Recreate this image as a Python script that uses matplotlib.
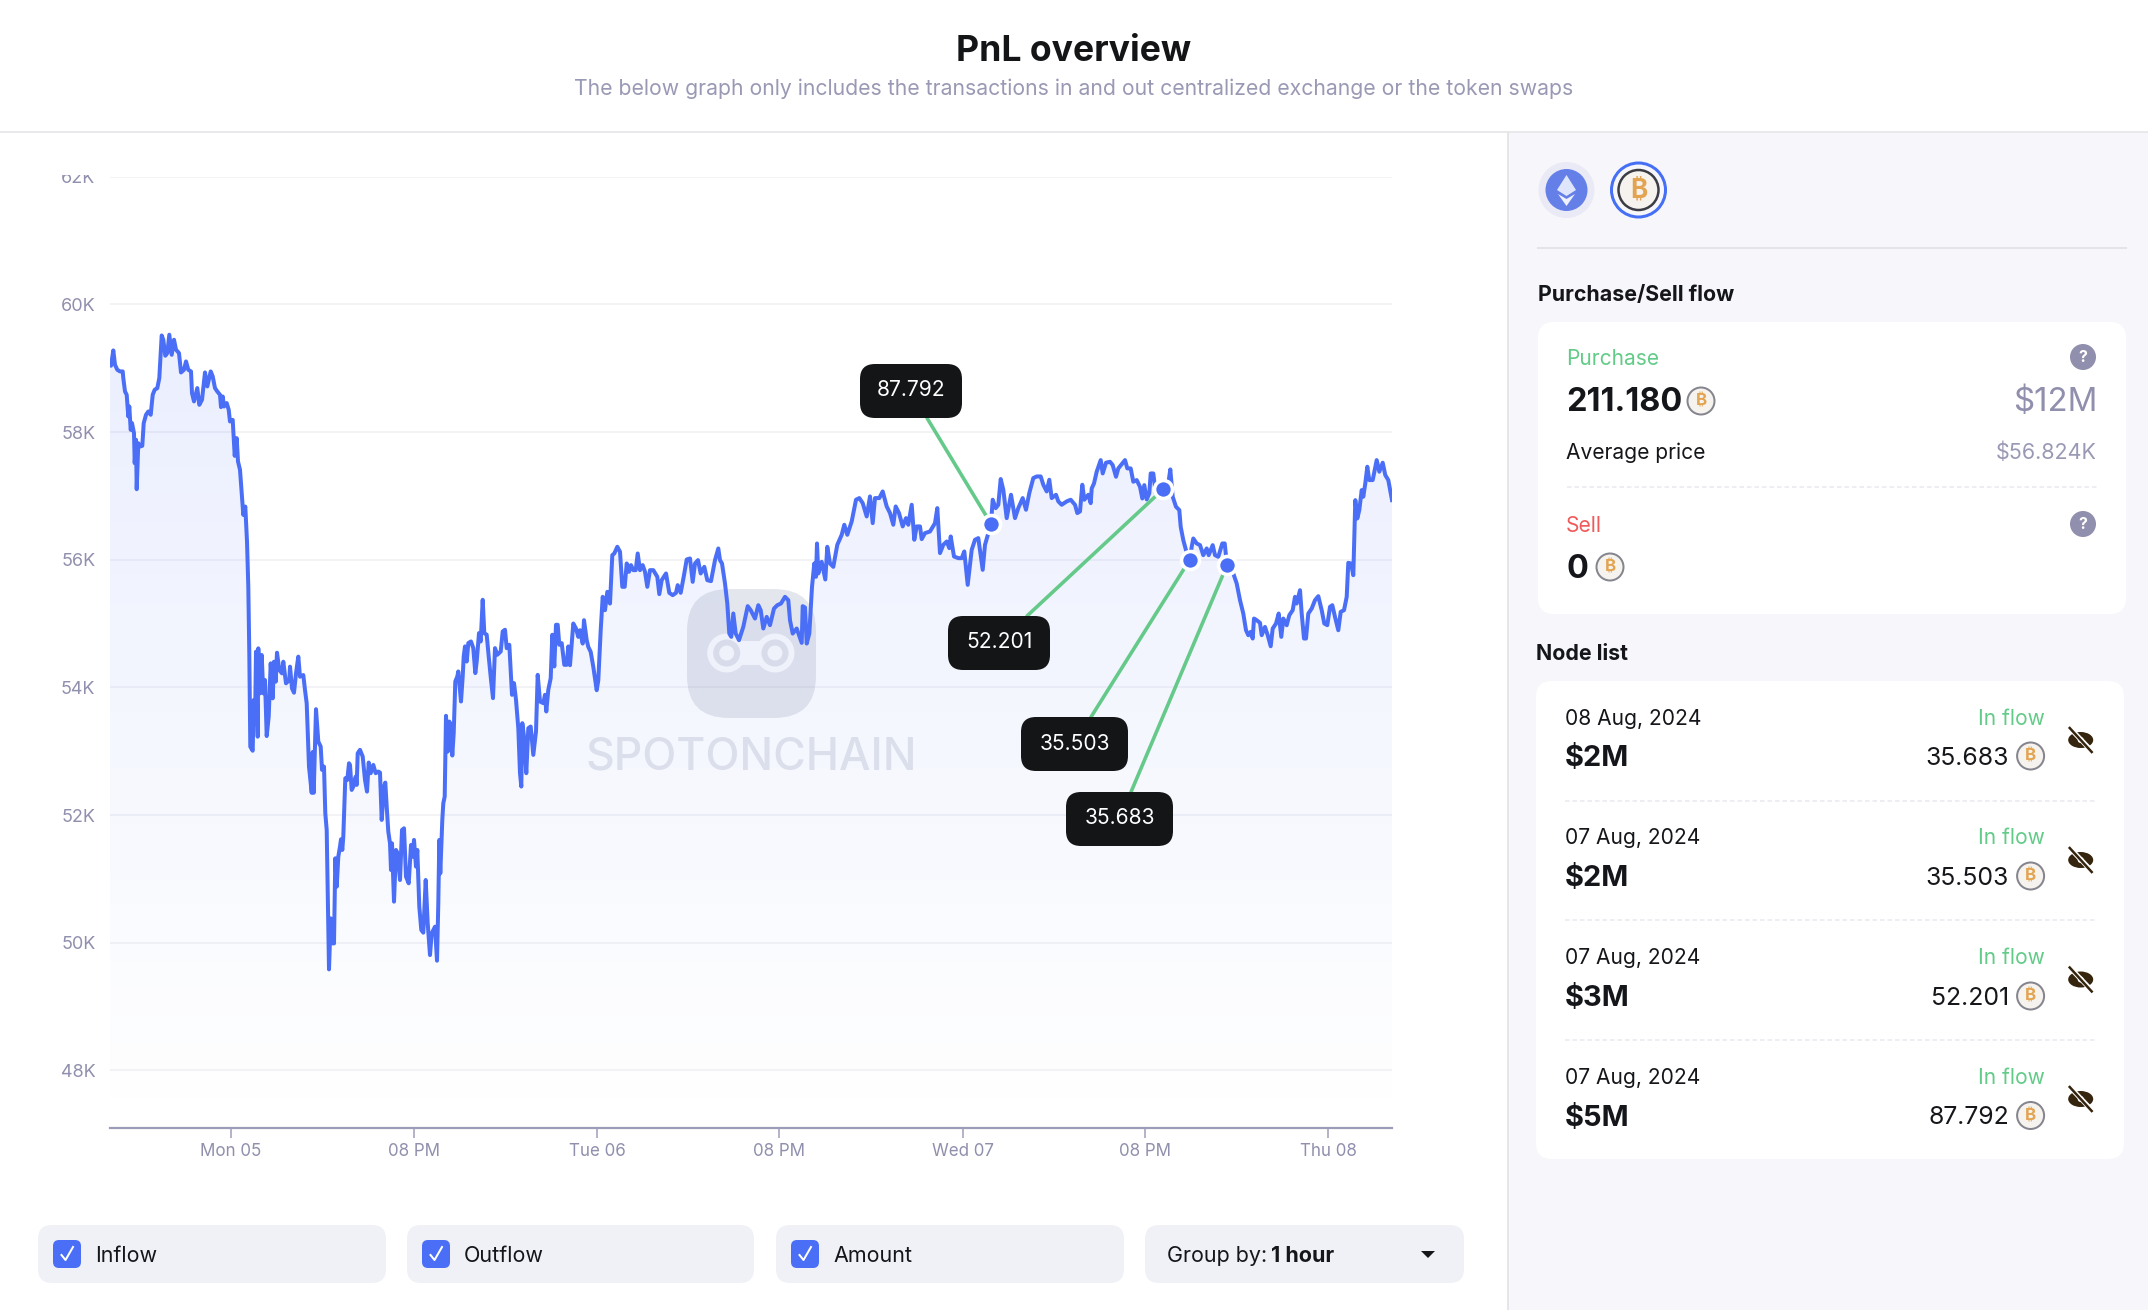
"""PnL overview screen: BTC price line with node callouts and the side panel."""
import matplotlib
matplotlib.use('Agg')
import matplotlib.pyplot as plt
import numpy as np
from matplotlib.colors import LinearSegmentedColormap
from matplotlib.patches import Circle, ConnectionPatch, Ellipse, FancyBboxPatch, Polygon, Rectangle
from matplotlib.transforms import Bbox

FAMILIES = ['Inter', 'Noto Sans', 'Roboto', 'Open Sans', 'Lato', 'Liberation Sans', 'DejaVu Sans']
plt.rcParams['font.family'] = FAMILIES

# ordinal sample position along the chart, and price (USD)
sample_idx = [
    0, 1, 3.3, 5, 7.3, 10, 12.7, 13.3, 15, 16.7, 18.3, 19.3, 20.7, 22, 24, 24.7, 26, 26.7, 28.3, 30, 32.3, 33.7, 36, 38.3,
    40.7, 42.7, 44.7, 47.3, 49.3, 51.7, 53.3, 55.3, 57.3, 59.3, 61.7, 64, 66, 69, 71, 74, 76, 78.3, 81, 82, 84, 87.3, 89.3,
    92, 95, 97.3, 100.7, 102.7, 105, 107.3, 110, 111, 112.7, 114, 116.7, 118.7, 120, 122.7, 124.7, 126.7, 128, 130, 132,
    133.3, 135.3, 137, 138.3, 139.3, 140.3, 142.7, 143.7, 145, 146, 147.7, 148.3, 150, 151.7, 153.3, 155, 156.7, 158.7,
    160.7, 162.7, 164, 165.7, 167, 169.3, 172, 173.3, 176, 179.3, 180, 182, 184, 186, 188.3, 190, 193.3, 195, 196.7, 199,
    201.7, 202.7, 203.7, 206, 208.3, 210.7, 212, 214, 215.3, 216.7, 217.7, 219, 220.7, 222.7, 224, 225.3, 226.7, 228.3,
    230, 231, 232.3, 233.3, 235.3, 237.3, 239, 240, 241.7, 243.3, 245.7, 246.7, 247.7, 250, 252.7, 255, 257, 258.7, 260.7,
    263.3, 265.7, 268.3, 270, 271.7, 274, 275.3, 276.7, 278.3, 280, 281, 282, 284, 286, 287.7, 290, 292, 294, 296, 298.7,
    301, 302.7, 304, 306, 307.3, 309.3, 311.3, 313.3, 315.7, 317.7, 320, 321.7, 325, 327, 328.3, 329.3, 330.3, 332.3,
    333.3, 334.7, 336, 337.7, 339.3, 340.7, 342.3, 343.7, 345.3, 347.3, 348.3, 351, 352.7, 353.7, 355, 356.7, 358.3, 361,
    363.3, 365.3, 366.7, 369, 370.7, 372.7, 374.3, 376.7, 378.7, 381, 383, 385, 387.3, 390.7, 392.7, 395, 396.7, 399.3,
    402, 404, 406, 408.3, 410, 411.3, 412.3, 414, 416.3, 418.3, 420.7, 423.3, 426, 427.7, 430, 433.3, 435, 436.3, 438.3,
    440.7, 442.3, 444.3, 446, 447.7, 449.3, 451.7, 454.3, 456.7, 458.3,
    460, 463.3, 466, 468.3, 470, 472.7, 474, 476.7, 478.3, 480.7, 483.3, 486.7, 488.3, 490.7, 492.7, 495, 497.3, 500,
    502.3, 504.3, 507.3, 510, 512.3, 514.7, 516.7, 519, 521, 523.3, 525.7, 527.7, 530, 532.7, 535, 537.3, 540, 543.3,
    547.3, 549.3, 551.7, 556, 559.3, 562.7, 566, 567.7, 570.7, 574, 576.7, 580, 582.7, 585, 588, 590.7, 594.3, 597.3, 601,
    605, 608.3, 610, 612, 615, 617.3, 619.3, 621.3, 623.3, 625.7, 629, 633.3, 637.7, 640.7, 645, 648.3, 650.7, 653.3,
    656.7, 660, 664, 667.3, 671, 675, 678.3, 680, 682.7, 686.7, 691.7, 692.7, 695, 696.7, 699.3, 702, 704.3, 706, 707,
    708.3, 711.7, 715.3, 717.3, 720, 723.3,
    727.3, 731.7, 734.3, 737.3, 741.7, 746, 749.3, 752.7, 756.7, 760, 762.7, 765, 769.3, 772.7, 776.7, 780, 783.3, 785.7,
    789, 792.7, 796, 798.3, 801.7, 804.3, 806.7, 810, 811.7, 815, 820, 825, 827.3, 830, 833.3, 836.7, 839.3, 840.7, 844,
    848.3, 851.7, 854.3, 857.7, 861.7, 865, 868.3, 872.7, 875, 878.3, 881, 882.7, 885.7, 888.3, 890.7, 893.3, 896.7, 901,
    905, 908.3, 912.7, 916, 919.3, 923.3, 926.7, 930.7, 933.3, 936.7, 939.3, 941.7, 946, 948.3, 951.7, 956.7, 960.7, 965,
    967.3, 970, 972.3, 974.3, 978.3, 980.7,
    981.7, 984, 986.7, 990.7, 992.7, 996, 1000, 1002.7, 1006, 1008.3, 1015, 1017.3, 1020.7, 1023.3, 1026.7, 1030, 1032.3,
    1034.3, 1036.7, 1039.3, 1040.7, 1043.3, 1045.7, 1048.3, 1053.3, 1058.3, 1060.3, 1062.7, 1066, 1069.3, 1070.7, 1073.3,
    1076, 1079.7, 1081.7, 1083.3, 1086.7, 1090, 1093.3, 1096.7, 1098.7, 1102.7, 1105, 1108.3, 1112.3, 1114.7, 1117, 1123.3,
    1126.7, 1130, 1133.3, 1136, 1138.3, 1140.7, 1142.7, 1144, 1146.7, 1150, 1151.7, 1155, 1157.7, 1160.7, 1162.7, 1166,
    1168.7, 1171.3, 1173.3, 1176.7, 1179.3, 1182.7, 1185, 1186.7, 1190, 1191.7, 1194, 1196, 1198.3, 1201.7, 1205, 1208.3,
    1211.7, 1214.3, 1217.3, 1220, 1222.3, 1225, 1228.3, 1230.7, 1234, 1236.7, 1238.3, 1241, 1243.3, 1245.3, 1247.3, 1249.3,
    1251.7, 1253.3, 1255.3, 1257.3, 1259.3, 1262.7, 1266.7, 1269.3, 1272.7, 1275.3, 1278.3, 1282,
]
price = [
    59082, 59040, 59280, 59055, 58977, 58951, 58951, 58846, 58637, 58585, 58245, 58402, 58036, 58141, 57984, 57514, 57880, 57106, 57827, 57775, 57786, 58141, 58272, 58324,
    58272, 58585, 58664, 58690, 58846, 59515, 59447, 59197, 59238, 59526, 59212, 59447, 59291, 59238, 58935, 58977, 59108, 58977, 58951, 58611, 58481, 58690, 58428,
    58507, 58935, 58716, 58951, 58873, 58690, 58637, 58585, 58392, 58559, 58402, 58455, 58350, 58167, 58193, 57629, 57906, 57540, 57409, 56991,
    56704, 56834, 56286, 55580, 54535, 53072, 53009, 53803, 53438, 54561, 53229, 54613, 53908, 54509, 53908, 54117, 53239, 53542,
    54378, 53830, 54404, 54091, 54545, 54274, 54221, 54404, 54065, 54117, 54326, 53986, 53918, 54221, 54483, 54169, 54195, 53960, 53751, 52758,
    52350, 52990, 52350, 53660, 53153, 53075, 52709, 52761, 52030, 51768, 50828, 49584, 50383, 49991, 49991, 51324, 50880, 51350,
    51507, 51622, 51455, 51664, 52578, 52552, 52813, 52787, 52395, 52448, 52604, 52474, 52970, 53023, 52918, 52552, 52369, 52824, 52657,
    52787, 52657, 52683, 52667, 51925, 52448, 52510, 52134, 51742, 51559, 51141, 51559, 50645, 51455, 51402, 50984, 51768, 51794, 51037, 50932,
    51533, 51350, 51612, 51193, 51455, 50566, 50200, 50159, 50984, 50305, 49808, 50148, 50253, 49720, 50619, 51612, 51089, 51925,
    52186, 52291, 53556, 52996, 53467, 53415, 52934, 53284, 54094, 54172, 54251, 53780, 54172, 54486, 54643, 54407, 54695, 54721,
    54616, 54225, 54407, 54852, 54721, 55374, 54852, 54826, 54486, 54120, 53833, 54616, 54512, 54564, 54878, 54904, 54616, 54669,
    53885, 54068, 53806, 53362, 52657, 52448, 53441, 53232, 52657, 53362, 53388, 52944, 53310, 54198, 53780, 53754, 53885, 53624, 53963,
    54146, 54826, 54329, 54982, 54982, 54669, 54695, 54355, 54355, 54643,
    54349, 55002, 54924, 54793, 54897, 54688, 55054, 54741, 54636, 54558, 54323, 53957, 54114, 54897, 55420, 55211, 55498, 55315,
    56073, 56099, 56204, 56126, 55577, 55577, 55943, 55812, 55917, 55838, 55838, 56099, 55838, 55917, 55812, 55577, 55838, 55838,
    55734, 55462, 55681, 55786, 55483, 55446, 55483, 55603, 55483, 55760, 56005, 56021, 55655, 55943, 55995, 55786, 55890, 55681, 55666,
    55995, 56178, 55995, 55943, 55629, 55315, 54845, 54793, 55159, 54845, 54741, 54950, 55274, 55211, 55080, 55289, 55211, 54924,
    55106, 54976, 55237, 55289, 55316, 55420, 55368, 55054, 54845, 54924, 54699, 55274, 55253, 54688, 54845, 55577, 55943, 55734, 56256,
    55786, 55969, 55692, 56204, 55943, 55890,
    56235, 56392, 56549, 56392, 56601, 56941, 56967, 56888, 56679, 56993, 56575, 56967, 56967, 57071, 56836, 56732, 56549, 56836,
    56732, 56523, 56653, 56549, 56862, 56314, 56523, 56523, 56324, 56418, 56444, 56575, 56810, 56105, 56235, 56287, 56183, 56366, 56052,
    56026, 56026, 56131, 55608, 56157, 56314, 56340, 55843, 56235, 56418, 56564, 56941, 56810, 56862, 57265, 57097, 56653, 57019,
    56653, 56810, 56967, 56784, 57045, 57280, 57306, 57306, 57176, 57071, 57254, 56967, 57019, 56915, 56862, 56915, 56941, 56862,
    56732, 56758, 57176, 56941, 57019, 56888,
    57118, 57197, 57380, 57562, 57353, 57521, 57536, 57484, 57301, 57432, 57562, 57432, 57432, 57223, 57249, 57144, 56961,
    57170, 56946, 57040, 57353, 57353, 57040, 57197, 57108, 57197, 57416, 56988, 56831, 56779, 56517, 56308,
    56151, 56000, 56204, 56334, 56256, 56230, 56073, 56178, 56073, 56230, 56073, 56047, 56256, 56256, 55916, 55786,
    55629, 55368, 55158, 54897, 54819, 54871, 54767, 55080, 55054, 55012, 54819, 54949, 54819, 54646, 54923, 55002,
    55158, 54793, 55080, 54975, 55132, 55211, 55420, 55315, 55524, 55158, 54767, 54767, 55158, 55237, 55368, 55430,
    55211, 55002, 54976, 55263, 55289, 55106, 54897, 55185, 55211, 55420, 55953, 55942, 55759, 56935, 56648, 56779,
    57092, 56988, 57197, 57458, 57249, 57249, 57562, 57380, 57521, 57327, 57249, 56935,
]

y_ticks = [48000, 50000, 52000, 54000, 56000, 58000, 60000, 62000]
y_tick_labels = ['48K', '50K', '52K', '54K', '56K', '58K', '60K', '62K']
x_ticks = [120.6, 304, 487, 669, 853, 1035, 1218]
x_tick_labels = ['Mon 05', '08 PM', 'Tue 06', '08 PM', 'Wed 07', '08 PM', 'Thu 08']

node_idx = [881, 1053.3, 1079.7, 1117]
node_price = [56564, 57108, 56000, 55916]
node_labels = ['87.792', '52.201', '35.503', '35.683']

dates = ['08 Aug, 2024', '07 Aug, 2024', '07 Aug, 2024', '07 Aug, 2024']
amounts_usd = ['$2M', '$2M', '$3M', '$5M']
amounts_btc = ['35.683', '35.503', '52.201', '87.792']

BLUE = '#4a6ff6'
GREEN = '#65c98a'
MUTED = '#908fad'
INK = '#14161a'

fig = plt.figure(figsize=(21.48, 13.1), dpi=100, facecolor='white')
ui = fig.add_axes([0, 0, 1, 1], zorder=0)
ui.set_xlim(0, 2148); ui.set_ylim(1310, 0); ui.axis('off')


def pt(px):
    return px * 0.72


def rounded(x0, y0, x1, y1, r, color, target=None, zorder=1, alpha=None):
    p = FancyBboxPatch((x0, y0), x1 - x0, y1 - y0, boxstyle=f'round,pad=0,rounding_size={r}', fc=color, ec='none',
                       transform=ui.transData, zorder=zorder, alpha=alpha, clip_on=False)
    (target or ui).add_patch(p)
    return p


def label(x, y, s, size, color=INK, weight='normal', ha='left'):
    # va=center sits a little high against the browser's line box
    return ui.text(x, y + size * 0.09, s, fontsize=pt(size), color=color, fontweight=weight, ha=ha, va='center', zorder=5)


def coin(x, y, r=13.5):
    ui.add_patch(Circle((x, y), r, fc='#f6f3ee', ec='#85858f', lw=pt(2), zorder=4))
    ui.text(x, y, '₿', fontsize=pt(r * 1.25), color='#e3a452', fontweight='bold', ha='center', va='center', zorder=5)


def help_icon(x, y):
    ui.add_patch(Circle((x, y), 13, fc=MUTED, ec='none', zorder=4))
    label(x, y - 1, '?', 16, 'white', 'bold', 'center')


def eye_off(x, y):
    ui.add_patch(Ellipse((x, y), 25, 16, fc='#35240e', ec='none', zorder=4))
    ui.add_patch(Circle((x, y), 3, fc='white', ec='none', zorder=5))
    ui.plot([x - 10, x + 11], [y - 11, y + 11], color='white', lw=pt(5), zorder=5)
    ui.plot([x - 11, x + 11], [y - 12, y + 12], color='#35240e', lw=pt(2.5), zorder=6)


# page frame
ui.add_patch(Rectangle((1508, 132), 640, 1178, fc='#f6f6fb', ec='none', zorder=0))
ui.plot([0, 2148], [132, 132], color='#e9e9ec', lw=pt(2), zorder=1)
ui.plot([1508, 1508], [132, 1310], color='#e6e6ea', lw=pt(2), zorder=1)
label(1074, 48, 'PnL overview', 35.6, '#131517', 'bold', 'center')
label(1074, 87, 'The below graph only includes the transactions in and out centralized exchange or the token swaps',
      21.2, '#9a99b5', ha='center')

# chart
ax = fig.add_axes([110 / 2148, 1 - 1127.5 / 1310, 1282 / 2148, (1127.5 - 176.8) / 1310], zorder=1)
ax.patch.set_alpha(0)
ax.set_xlim(0, 1282); ax.set_ylim(47107, 62000)
for side in ['top', 'left', 'right']:
    ax.spines[side].set_visible(False)
ax.spines['bottom'].set_color('#9d9cb8'); ax.spines['bottom'].set_linewidth(pt(2.2))
ax.set_yticks(y_ticks, y_tick_labels)
ax.set_xticks(x_ticks, x_tick_labels)
ax.tick_params(axis='y', length=0, pad=pt(14.5), labelsize=pt(18), labelcolor=MUTED)
ax.tick_params(axis='x', length=pt(10), width=pt(1.5), color='#9d9cb8', pad=pt(6), labelsize=pt(17), labelcolor=MUTED)
ax.grid(True, axis='y', color='#f3f3f6', lw=pt(2), zorder=0)
ax.set_axisbelow(True)
for t in ax.yaxis.get_major_ticks():
    t.label1.set_clip_box(Bbox([[0, 0], [2148, 1310 - 175]]))
    t.label1.set_clip_on(True)

fill = ax.fill_between(sample_idx, price, 47107, color='none', zorder=1)
fade = LinearSegmentedColormap.from_list('fade', [(0.29, 0.435, 0.965, 0.135), (0.29, 0.435, 0.965, 0.0)])
grad = ax.imshow(np.linspace(0, 1, 256)[:, None], cmap=fade, extent=[0, 1282, 47107, 62000], origin='upper',
                 aspect='auto', zorder=1)
grad.set_clip_path(fill.get_paths()[0], transform=ax.transData)

# watermark
rounded(687, 589, 816, 718, 42, '#7c86a5', ax, zorder=1.5, alpha=0.2)
ax.add_patch(Rectangle((727, 641), 48, 24, fc='#eff1fb', ec='none', transform=ui.transData, zorder=1.6, clip_on=False))
for cx in [726.7, 775]:
    for r, c in [(19.5, '#eff1fb'), (13.5, '#d8dcea'), (7.5, '#eff1fb')]:
        ax.add_patch(Circle((cx, 653), r, fc=c, ec='none', transform=ui.transData, zorder=1.6, clip_on=False))
ax.text(751, 758, 'SPOTONCHAIN', fontsize=pt(44.5), color='#dbdeeb', fontweight='medium', ha='center', va='center',
        transform=ui.transData, zorder=1.6)

ax.plot(sample_idx, price, color=BLUE, lw=pt(4), solid_joinstyle='round', zorder=3)

# node callouts
box_px = [(860, 364, 962, 418), (948, 616, 1050, 670), (1021, 717, 1128, 771), (1066, 792, 1173, 846)]
stem_px = [(927, 418), (1027, 616), (1091, 717), (1131, 792)]
for xi, yi, name, box, stem in zip(node_idx, node_price, node_labels, box_px, stem_px):
    ax.add_artist(ConnectionPatch(stem, (xi, yi), coordsA=ui.transData, coordsB=ax.transData, color=GREEN, lw=pt(3.6), zorder=4))
    rounded(*box, 15, '#131517', ax, zorder=6)
    ax.text((box[0] + box[2]) / 2, (box[1] + box[3]) / 2 - 0.5, name, fontsize=pt(21), color='white', ha='center', va='center',
            transform=ui.transData, zorder=7)
ax.plot(node_idx, node_price, 'o', ms=pt(18), mfc=BLUE, mec='white', mew=pt(3.6), zorder=5, clip_on=False)

# controls under the chart
buttons = [(38, 386, 'Inflow'), (407, 754, 'Outflow'), (776, 1124, 'Amount')]
for x0, x1, name in buttons:
    rounded(x0, 1225, x1, 1283, 14, '#f0f1f6')
    rounded(x0 + 15, 1240, x0 + 43, 1268, 6, BLUE, zorder=2)
    cx = x0 + 29
    ui.plot([cx - 5.5, cx - 1.5, cx + 6], [1255, 1260, 1247], color='white', lw=pt(2), zorder=3)
    label(x0 + 57, 1254, name, 21.5)
rounded(1145, 1225, 1464, 1283, 14, '#f0f1f6')
label(1167, 1254, 'Group by:', 21.5)
label(1271, 1254, '1 hour', 21.5, weight='bold')
ui.add_patch(Polygon([(1421, 1251), (1435, 1251), (1428, 1258)], fc=INK, ec='none', zorder=3))

# side panel
ui.add_patch(Circle((1566.5, 190), 28, fc='#e9eaf5', ec='none', zorder=2))
ui.add_patch(Circle((1566.5, 190), 21, fc='#6480e8', ec='none', zorder=3))
ui.add_patch(Polygon([(1566.5, 175), (1576, 190), (1566.5, 196), (1557, 190)], fc='#dfe5fb', ec='none', zorder=4))
ui.add_patch(Polygon([(1566.5, 199), (1575, 194), (1566.5, 206), (1558, 194)], fc='#eef1fd', ec='none', zorder=4))
ui.add_patch(Circle((1638.5, 190), 27, fc='#f6f6fb', ec='#456ff5', lw=pt(3), zorder=2))
ui.add_patch(Circle((1638.5, 190), 20, fc='#f6f3ee', ec='#3c3c44', lw=pt(2.5), zorder=3))
ui.text(1638.5, 190, '₿', fontsize=pt(26), color='#e3a452', fontweight='bold', ha='center', va='center', zorder=5)
ui.plot([1538, 2126], [248, 248], color='#e3e3e9', lw=pt(2), zorder=1)

label(1538, 293, 'Purchase/Sell flow', 21.3, weight='bold')
rounded(1538, 322, 2126, 614, 16, 'white')
label(1566, 357, 'Purchase', 21, '#63cb88')
help_icon(2083, 357)
label(1566, 400, '211.180', 32.5, weight='bold')
coin(1701, 401)
label(2097, 400, '$12M', 33, MUTED, ha='right')
label(1566, 451, 'Average price', 21)
label(2097, 451, '$56.824K', 21.5, '#9a99b5', ha='right')
ui.plot([1567, 2097], [487, 487], color='#e9e9ee', lw=pt(1.5), ls=(0, (3, 2)), zorder=2)
label(1566, 524, 'Sell', 21, '#f05a5a')
help_icon(2083, 524)
label(1566, 567, '0', 32.5, weight='bold')
coin(1610, 567)

label(1536, 652, 'Node list', 21.3, weight='bold')
rounded(1536, 681, 2124, 1159, 16, 'white')
date_y = [717, 836, 956, 1076]
amount_y = [756, 876, 996, 1115.5]
eye_y = [740, 860, 979.5, 1099]
for d, usd, btc, y0, y1, ye in zip(dates, amounts_usd, amounts_btc, date_y, amount_y, eye_y):
    label(1565, y0, d, 21)
    label(1565, y1, usd, 29, weight='bold')
    label(2044.6, y0, 'In flow', 21, '#63cb88', ha='right')
    label(2009, y1, btc, 24.8, ha='right')
    coin(2030.6, y1)
    eye_off(2080.7, ye)
for y in [800.5, 920, 1040]:
    ui.plot([1565, 2095], [y, y], color='#e9e9ee', lw=pt(1.5), ls=(0, (3, 2)), zorder=2)

fig.savefig('out.png', dpi=100)
